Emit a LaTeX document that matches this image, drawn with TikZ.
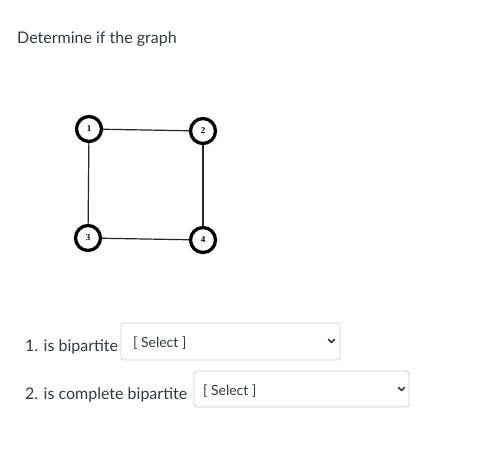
\documentclass[tikz,border=0pt]{standalone}
\usepackage{fontspec}
\setmainfont{Lato}
\newfontfamily\numfont{Liberation Serif}
\definecolor{txt}{HTML}{2D3B45}
\definecolor{boxline}{HTML}{C7CDD1}
\tikzset{
  vert/.style={circle, draw=black, line width=3.3pt, fill=white, minimum size=25pt, inner sep=0pt, font=\numfont\bfseries\fontsize{9}{10}\selectfont},
  edge/.style={draw=black!85, line width=1.2pt},
  selbox/.style={draw=boxline, line width=0.8pt, rounded corners=3pt, fill=white},
  lbl/.style={anchor=base west, inner sep=0pt, text=txt, font=\fontsize{16}{19}\selectfont},
  sel/.style={anchor=base west, inner sep=0pt, text=txt, font=\fontsize{14}{16}\selectfont},
  chev/.style={draw=txt, line width=1.5pt, line cap=round, line join=round}
}
\begin{document}
\begin{tikzpicture}[x=1pt,y=-1pt]
\useasboundingbox[fill=white] (0,0) rectangle (500,461);
\node[lbl] (title) at (17,43) {Determine if the graph};
% graph
\node[vert] (n1) at (89,129) {1};
\node[vert] (n2) at (203,131) {2};
\node[vert] (n3) at (88,238) {3};
\node[vert] (n4) at (203,240) {4};
\draw[edge] (n1) -- (n2);
\draw[edge] (n1) -- (n3);
\draw[edge] (n2) -- (n4);
\draw[edge] (n3) -- (n4);
% questions
\node[lbl] (q1) at (25,351) {1. is bipartite};
\draw[selbox] (121,323) rectangle (340,360);
\node[sel] (s1) at (133,347) {[ Select ]};
\draw[chev] (328.5,339.5) -- (331.5,342.5) -- (334.5,339.5);
\node[lbl] (q2) at (25,399) {2. is complete bipartite};
\draw[selbox] (194,371) rectangle (409,407);
\node[sel] (s2) at (203,395) {[ Select ]};
\draw[chev] (398.5,387.5) -- (401.5,390.5) -- (404.5,387.5);
\end{tikzpicture}
\end{document}
